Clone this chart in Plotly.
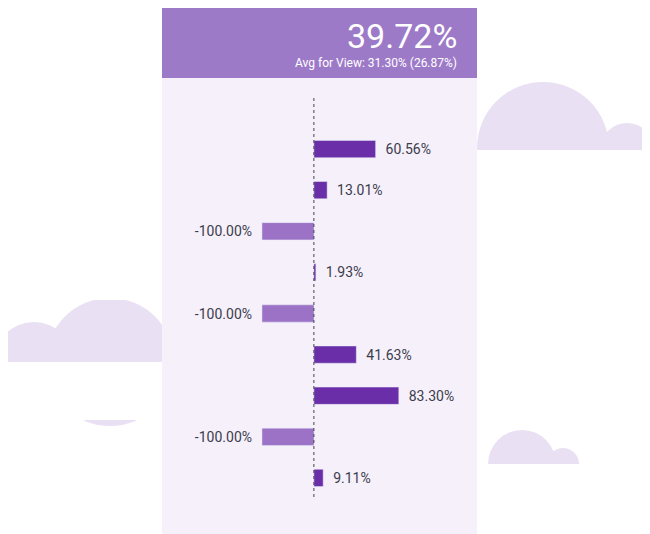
import plotly.graph_objects as go

W, H = 642, 526
OFF = 8
rows = ["r1", "r2", "r3", "r4", "r5", "r6", "r7", "r8", "r9"]
values = [60.56, 13.01, -100.00, 1.93, -100.00, 41.63, 83.30, -100.00, 9.11]
headline = "39.72%"
subline = "Avg for View: 31.30% (26.87%)"

pos = [v if v >= 0 else None for v in values]
neg = [v if v < 0 else None for v in values]


def px(x):
    return (x - OFF) / W


def py(y):
    return 1 - (y - OFF) / H


fig = go.Figure()
fig.add_trace(go.Bar(y=rows, x=pos, orientation="h", marker_color="#6a2fa8",
                     texttemplate="  %{x:.2f}%", textposition="outside",
                     textfont=dict(size=14, color="#3c3c4c"), cliponaxis=False,
                     xaxis="x", yaxis="y"))
fig.add_trace(go.Bar(y=rows, x=neg, orientation="h", marker_color="#9b72c6",
                     texttemplate="%{x:.2f}%  ", textposition="outside",
                     textfont=dict(size=14, color="#3c3c4c"), cliponaxis=False,
                     xaxis="x2", yaxis="y"))

shapes = []
cloud = "#e9e1f3"


def circ(cx, cy, r):
    shapes.append(dict(type="circle", xref="paper", yref="paper", layer="below",
                       x0=px(cx - r), x1=px(cx + r), y0=py(cy + r), y1=py(cy - r),
                       fillcolor=cloud, line_width=0))


def rect(x0, y0, x1, y1, color):
    shapes.append(dict(type="rect", xref="paper", yref="paper", layer="below",
                       x0=px(x0), x1=px(x1), y0=py(y1), y1=py(y0),
                       fillcolor=color, line_width=0))


# clouds (circles cut flat at the bottom by white masks)
circ(543, 148, 66); circ(627, 150, 27)
circ(110, 362, 64); circ(34, 362, 40)
circ(522, 464, 34); circ(563, 464, 16)
rect(0, 150, 660, 300, "white")
rect(0, 362, 170, 420, "white")
rect(470, 464, 660, 540, "white")
# card
rect(162, 0, 477, 540, "#f5f0fa")
rect(162, 0, 477, 78, "#9d7ac8")
shapes.append(dict(type="line", xref="x", yref="paper", x0=0, x1=0,
                   y0=py(497), y1=py(98), line=dict(color="#444", width=1, dash="dot")))

fig.update_layout(
    width=W, height=H, margin=dict(l=0, r=0, t=0, b=0),
    paper_bgcolor="white", plot_bgcolor="rgba(0,0,0,0)",
    font=dict(family="Roboto"), showlegend=False, barmode="overlay", bargap=0.58,
    shapes=shapes,
    xaxis=dict(domain=[px(162), px(477)], range=[-149, 160], visible=False),
    xaxis2=dict(domain=[px(162), px(477)], range=[-292, 313], visible=False,
                overlaying="x", anchor="y"),
    yaxis=dict(domain=[py(498.5), py(128.5)], autorange="reversed", visible=False),
    annotations=[
        dict(text=headline, xref="paper", yref="paper", x=px(459), y=py(36),
             xanchor="right", yanchor="middle", showarrow=False,
             font=dict(size=34, color="white")),
        dict(text=subline, xref="paper", yref="paper", x=px(459), y=py(63),
             xanchor="right", yanchor="middle", showarrow=False,
             font=dict(size=12, color="white")),
    ],
)
fig.write_html("out.html")
